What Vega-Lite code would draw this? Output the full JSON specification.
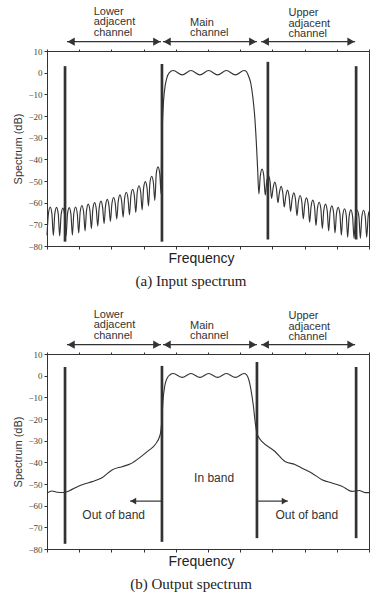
{
"$schema": "https://vega.github.io/schema/vega-lite/v6.json",
"background": "white",
"padding": {"left": 12, "top": 4, "right": 5, "bottom": 5},
"config": {
  "view": {"stroke": "#333", "strokeWidth": 1},
  "axis": {"grid": false, "domainColor": "#333", "tickColor": "#333", "tickWidth": 1, "domainWidth": 1}
},
"datasets": {
  "input": [
    {"f":0,"db":-75},{"f":0.045,"db":-65},{"f":0.099,"db":-62},{"f":0.152,"db":-65},
    {"f":0.197,"db":-75.2},{"f":0.242,"db":-65.2},{"f":0.296,"db":-62.2},{"f":0.349,"db":-65.2},
    {"f":0.394,"db":-75.4},{"f":0.439,"db":-65.5},{"f":0.493,"db":-62.5},{"f":0.546,"db":-65.5},
    {"f":0.591,"db":-75.5},{"f":0.636,"db":-65.3},{"f":0.69,"db":-62.3},{"f":0.743,"db":-65.3},
    {"f":0.788,"db":-75},{"f":0.833,"db":-65},{"f":0.887,"db":-62},{"f":0.94,"db":-65},
    {"f":0.985,"db":-74},{"f":1.03,"db":-64.3},{"f":1.084,"db":-61.3},{"f":1.137,"db":-64.3},
    {"f":1.182,"db":-73},{"f":1.227,"db":-63.7},{"f":1.281,"db":-60.7},{"f":1.334,"db":-63.7},
    {"f":1.379,"db":-72},{"f":1.424,"db":-63},{"f":1.478,"db":-60},{"f":1.531,"db":-63},
    {"f":1.576,"db":-70.8},{"f":1.621,"db":-62.3},{"f":1.675,"db":-59.3},{"f":1.728,"db":-62.3},
    {"f":1.773,"db":-69.6},{"f":1.818,"db":-61.5},{"f":1.872,"db":-58.5},{"f":1.925,"db":-61.5},
    {"f":1.97,"db":-68.6},{"f":2.015,"db":-60.6},{"f":2.069,"db":-57.6},{"f":2.122,"db":-60.6},
    {"f":2.167,"db":-67.6},{"f":2.212,"db":-59.4},{"f":2.266,"db":-56.4},{"f":2.319,"db":-59.4},
    {"f":2.364,"db":-66.7},{"f":2.409,"db":-58.2},{"f":2.463,"db":-55.2},{"f":2.516,"db":-58.2},
    {"f":2.561,"db":-65.6},{"f":2.606,"db":-56.8},{"f":2.66,"db":-53.8},{"f":2.713,"db":-56.8},
    {"f":2.758,"db":-64.5},{"f":2.803,"db":-55.2},{"f":2.857,"db":-52.2},{"f":2.91,"db":-55.2},
    {"f":2.955,"db":-63.3},{"f":3.0,"db":-53.3},{"f":3.054,"db":-50.3},{"f":3.107,"db":-53.3},
    {"f":3.152,"db":-61.5},{"f":3.197,"db":-50.8},{"f":3.251,"db":-47.8},{"f":3.304,"db":-50.8},
    {"f":3.349,"db":-59},{"f":3.394,"db":-46.5},{"f":3.448,"db":-43.5},{"f":3.501,"db":-46.5},
    {"f":3.546,"db":-56},{"f":3.56,"db":-36},{"f":3.58,"db":-25},{"f":3.62,"db":-13},{"f":3.67,"db":-6},{"f":3.72,"db":-2.5},{"f":3.8,"db":0},
    {"f":3.92,"db":1},{"f":4.2,"db":-1},{"f":4.47,"db":1},{"f":4.75,"db":-1},{"f":5.02,"db":1},{"f":5.3,"db":-1},{"f":5.57,"db":1},{"f":5.85,"db":-1},{"f":6.12,"db":1},
    {"f":6.2,"db":0.4},{"f":6.27,"db":-2},{"f":6.33,"db":-5},{"f":6.39,"db":-11},{"f":6.45,"db":-20},{"f":6.5,"db":-32},{"f":6.54,"db":-44},
    {"f":6.58,"db":-56},{"f":6.625,"db":-47.5},{"f":6.679,"db":-44.5},{"f":6.732,"db":-47.5},
    {"f":6.777,"db":-56.5},{"f":6.822,"db":-50.5},{"f":6.876,"db":-47.5},{"f":6.929,"db":-50.5},
    {"f":6.974,"db":-58},{"f":7.019,"db":-53.5},{"f":7.073,"db":-50.5},{"f":7.126,"db":-53.5},
    {"f":7.171,"db":-60},{"f":7.216,"db":-55.5},{"f":7.27,"db":-52.5},{"f":7.323,"db":-55.5},
    {"f":7.368,"db":-62},{"f":7.413,"db":-57.2},{"f":7.467,"db":-54.2},{"f":7.52,"db":-57.2},
    {"f":7.565,"db":-64},{"f":7.61,"db":-58.5},{"f":7.664,"db":-55.5},{"f":7.717,"db":-58.5},
    {"f":7.762,"db":-66},{"f":7.807,"db":-59.7},{"f":7.861,"db":-56.7},{"f":7.914,"db":-59.7},
    {"f":7.959,"db":-67.5},{"f":8.004,"db":-60.8},{"f":8.058,"db":-57.8},{"f":8.111,"db":-60.8},
    {"f":8.156,"db":-69},{"f":8.201,"db":-61.8},{"f":8.255,"db":-58.8},{"f":8.308,"db":-61.8},
    {"f":8.353,"db":-70.5},{"f":8.398,"db":-62.8},{"f":8.452,"db":-59.8},{"f":8.505,"db":-62.8},
    {"f":8.55,"db":-72},{"f":8.595,"db":-63.7},{"f":8.649,"db":-60.7},{"f":8.702,"db":-63.7},
    {"f":8.747,"db":-73},{"f":8.792,"db":-64.5},{"f":8.846,"db":-61.5},{"f":8.899,"db":-64.5},
    {"f":8.944,"db":-74},{"f":8.989,"db":-65.2},{"f":9.043,"db":-62.2},{"f":9.096,"db":-65.2},
    {"f":9.141,"db":-75},{"f":9.186,"db":-65.8},{"f":9.24,"db":-62.8},{"f":9.293,"db":-65.8},
    {"f":9.338,"db":-76},{"f":9.383,"db":-66.3},{"f":9.437,"db":-63.3},{"f":9.49,"db":-66.3},
    {"f":9.535,"db":-76.5},{"f":9.58,"db":-66.5},{"f":9.634,"db":-63.5},{"f":9.687,"db":-66.5},
    {"f":9.732,"db":-76.5},{"f":9.777,"db":-66.5},{"f":9.831,"db":-63.5},{"f":9.884,"db":-66.5},
    {"f":9.929,"db":-76},{"f":9.974,"db":-66.3},{"f":10,"db":-64}
  ],
  "output": [
    {"f":0,"db":-54.2},{"f":0.155,"db":-53.2},{"f":0.31,"db":-53.8},{"f":0.53,"db":-53.9},{"f":0.68,"db":-53.2},{"f":0.99,"db":-50.9},{"f":1.2,"db":-49.8},{"f":1.4,"db":-48.9},{"f":1.71,"db":-47.1},{"f":2.02,"db":-43.5},{"f":2.33,"db":-42},{"f":2.58,"db":-40.8},{"f":2.95,"db":-37},{"f":3.17,"db":-34.4},{"f":3.35,"db":-32},{"f":3.51,"db":-27.5},{"f":3.57,"db":-20},{"f":3.6,"db":-12},{"f":3.66,"db":-4.5},{"f":3.73,"db":-1.2},{"f":3.82,"db":0.4},
    {"f":3.92,"db":1},{"f":4.2,"db":-0.8},{"f":4.47,"db":1},{"f":4.75,"db":-0.8},{"f":5.02,"db":1},{"f":5.3,"db":-0.8},{"f":5.57,"db":1},{"f":5.85,"db":-0.8},{"f":6.12,"db":1},
    {"f":6.2,"db":0.4},{"f":6.27,"db":-2},{"f":6.34,"db":-7},{"f":6.41,"db":-14},{"f":6.47,"db":-22},{"f":6.52,"db":-26.5},{"f":6.6,"db":-29},{"f":6.68,"db":-30.4},{"f":7.08,"db":-35},{"f":7.39,"db":-39.6},{"f":7.7,"db":-41},{"f":7.92,"db":-42.7},{"f":8.23,"db":-45},{"f":8.54,"db":-48},{"f":8.85,"db":-49.5},{"f":9.16,"db":-51},{"f":9.47,"db":-53.4},{"f":9.69,"db":-53},{"f":9.88,"db":-54},{"f":10,"db":-54}
  ],
  "bounds1": [
    {"f":0.56,"top":3,"bot":-78},{"f":3.57,"top":4,"bot":-78},{"f":6.86,"top":5,"bot":-77},{"f":9.6,"top":3,"bot":-77}
  ],
  "bounds2": [
    {"f":0.56,"top":4,"bot":-77.6},{"f":3.57,"top":4.5,"bot":-76.7},{"f":6.52,"top":6.3,"bot":-75},{"f":9.6,"top":4,"bot":-75}
  ],
  "chanArrows": [
    {"f":0.62,"f2":3.54,"db":14.3},{"f":3.6,"f2":6.52,"db":14.3},{"f":6.65,"f2":9.57,"db":14.3}
  ],
  "chanHeads": [
    {"f":0.75,"db":14.3,"dir":"left"},{"f":3.41,"db":14.3,"dir":"right"},
    {"f":3.73,"db":14.3,"dir":"left"},{"f":6.39,"db":14.3,"dir":"right"},
    {"f":6.78,"db":14.3,"dir":"left"},{"f":9.44,"db":14.3,"dir":"right"}
  ],
  "chanLabels": [
    {"f":1.45,"db":31,"text":"Lower\nadjacent\nchannel"},
    {"f":4.44,"db":25.9,"text":"Main\nchannel"},
    {"f":7.5,"db":30.1,"text":"Upper\nadjacent\nchannel"}
  ],
  "bandArrows": [
    {"f":2.58,"f2":3.57,"db":-57.9},{"f":6.52,"f2":7.48,"db":-57.9}
  ],
  "bandHeads": [
    {"f":2.68,"db":-57.9,"dir":"left"},{"f":7.38,"db":-57.9,"dir":"right"}
  ],
  "bandLabels": [
    {"f":2.07,"db":-64.3,"text":"Out of band"},
    {"f":8.07,"db":-64.3,"text":"Out of band"},
    {"f":5.19,"db":-47.3,"text":"In band"}
  ]
},
"bounds": "flush",
"spacing": 108,
"vconcat": [
  {
    "width": 322, "height": 195,
    "title": {"text": "(a) Input spectrum", "orient": "bottom", "anchor": "middle", "font": "Liberation Serif", "fontSize": 15, "fontWeight": "normal", "color": "#222", "offset": 8, "dx": -17},
    "resolve": {"axis": {"x": "independent", "y": "independent"}},
    "layer": [
      {
        "data": {"name": "input"},
        "mark": {"type": "line", "color": "#333", "strokeWidth": 1.15, "interpolate": "monotone"},
        "encoding": {
          "x": {"field": "f", "type": "quantitative", "scale": {"domain": [0, 10], "nice": false},
                "axis": {"orient": "bottom", "values": [0,1,2,3,4,5,6,7,8,9,10], "labels": false, "tickSize": 3, "title": "Frequency", "titleFont": "Liberation Sans", "titleFontSize": 14, "titleFontWeight": "normal", "titleColor": "#222", "titlePadding": 2, "titleX": 154, "titleAlign": "center"}},
          "y": {"field": "db", "type": "quantitative", "scale": {"domain": [-80, 10], "nice": false},
                "axis": {"values": [-80,-70,-60,-50,-40,-30,-20,-10,0,10], "labelOverlap": false, "title": "Spectrum (dB)", "labelFont": "Liberation Serif", "labelFontSize": 9, "labelColor": "#444", "tickSize": 3, "labelPadding": 2, "titleFont": "Liberation Sans", "titleFontSize": 11, "titleFontWeight": "normal", "titleColor": "#333", "titlePadding": 4}}
        }
      },
      {
        "data": {"name": "bounds1"},
        "mark": {"type": "rule", "color": "#333", "strokeWidth": 2.7},
        "encoding": {
          "x": {"field": "f", "type": "quantitative", "axis": {"orient": "top", "values": [0,1,2,3,4,5,6,7,8,9,10], "labels": false, "tickSize": 2, "title": null}},
          "y": {"field": "top", "type": "quantitative", "axis": null},
          "y2": {"field": "bot"}
        }
      },
      {
        "data": {"name": "chanArrows"},
        "mark": {"type": "rule", "color": "#333", "strokeWidth": 1.3},
        "encoding": {
          "x": {"field": "f", "type": "quantitative", "axis": null},
          "x2": {"field": "f2"},
          "y": {"field": "db", "type": "quantitative", "axis": null}
        }
      },
      {
        "data": {"name": "chanHeads"},
        "mark": {"type": "point", "filled": true, "color": "#333", "size": 70, "opacity": 1},
        "encoding": {
          "x": {"field": "f", "type": "quantitative", "axis": null},
          "y": {"field": "db", "type": "quantitative", "axis": null},
          "shape": {"field": "dir", "type": "nominal", "scale": {"domain": ["left", "right"], "range": ["triangle-left", "triangle-right"]}, "legend": null}
        }
      },
      {
        "data": {"name": "chanLabels"},
        "mark": {"type": "text", "align": "left", "baseline": "top", "lineBreak": "\n", "lineHeight": 10.5, "font": "Liberation Sans", "fontSize": 11, "color": "#333"},
        "encoding": {
          "x": {"field": "f", "type": "quantitative", "axis": null},
          "y": {"field": "db", "type": "quantitative", "axis": null},
          "text": {"field": "text"}
        }
      }
    ]
  },
  {
    "width": 322, "height": 195,
    "title": {"text": "(b) Output spectrum", "orient": "bottom", "anchor": "middle", "font": "Liberation Serif", "fontSize": 15, "fontWeight": "normal", "color": "#222", "offset": 8, "dx": -17},
    "resolve": {"axis": {"x": "independent", "y": "independent"}},
    "layer": [
      {
        "data": {"name": "output"},
        "mark": {"type": "line", "color": "#333", "strokeWidth": 1.1, "interpolate": "monotone"},
        "encoding": {
          "x": {"field": "f", "type": "quantitative", "scale": {"domain": [0, 10], "nice": false},
                "axis": {"orient": "bottom", "values": [0,1,2,3,4,5,6,7,8,9,10], "labels": false, "tickSize": 3, "title": "Frequency", "titleFont": "Liberation Sans", "titleFontSize": 14, "titleFontWeight": "normal", "titleColor": "#222", "titlePadding": 2, "titleX": 154, "titleAlign": "center"}},
          "y": {"field": "db", "type": "quantitative", "scale": {"domain": [-80, 10], "nice": false},
                "axis": {"values": [-80,-70,-60,-50,-40,-30,-20,-10,0,10], "labelOverlap": false, "title": "Spectrum (dB)", "labelFont": "Liberation Serif", "labelFontSize": 9, "labelColor": "#444", "tickSize": 3, "labelPadding": 2, "titleFont": "Liberation Sans", "titleFontSize": 11, "titleFontWeight": "normal", "titleColor": "#333", "titlePadding": 4}}
        }
      },
      {
        "data": {"name": "bounds2"},
        "mark": {"type": "rule", "color": "#333", "strokeWidth": 2.7},
        "encoding": {
          "x": {"field": "f", "type": "quantitative", "axis": {"orient": "top", "values": [0,1,2,3,4,5,6,7,8,9,10], "labels": false, "tickSize": 2, "title": null}},
          "y": {"field": "top", "type": "quantitative", "axis": null},
          "y2": {"field": "bot"}
        }
      },
      {
        "data": {"name": "chanArrows"},
        "mark": {"type": "rule", "color": "#333", "strokeWidth": 1.3},
        "encoding": {
          "x": {"field": "f", "type": "quantitative", "axis": null},
          "x2": {"field": "f2"},
          "y": {"field": "db", "type": "quantitative", "axis": null}
        }
      },
      {
        "data": {"name": "chanHeads"},
        "mark": {"type": "point", "filled": true, "color": "#333", "size": 70, "opacity": 1},
        "encoding": {
          "x": {"field": "f", "type": "quantitative", "axis": null},
          "y": {"field": "db", "type": "quantitative", "axis": null},
          "shape": {"field": "dir", "type": "nominal", "scale": {"domain": ["left", "right"], "range": ["triangle-left", "triangle-right"]}, "legend": null}
        }
      },
      {
        "data": {"name": "chanLabels"},
        "mark": {"type": "text", "align": "left", "baseline": "top", "lineBreak": "\n", "lineHeight": 10.5, "font": "Liberation Sans", "fontSize": 11, "color": "#333"},
        "encoding": {
          "x": {"field": "f", "type": "quantitative", "axis": null},
          "y": {"field": "db", "type": "quantitative", "axis": null},
          "text": {"field": "text"}
        }
      },
      {
        "data": {"name": "bandArrows"},
        "mark": {"type": "rule", "color": "#333", "strokeWidth": 1.2},
        "encoding": {
          "x": {"field": "f", "type": "quantitative", "axis": null},
          "x2": {"field": "f2"},
          "y": {"field": "db", "type": "quantitative", "axis": null}
        }
      },
      {
        "data": {"name": "bandHeads"},
        "mark": {"type": "point", "filled": true, "color": "#333", "size": 45, "opacity": 1},
        "encoding": {
          "x": {"field": "f", "type": "quantitative", "axis": null},
          "y": {"field": "db", "type": "quantitative", "axis": null},
          "shape": {"field": "dir", "type": "nominal", "scale": {"domain": ["left", "right"], "range": ["triangle-left", "triangle-right"]}, "legend": null}
        }
      },
      {
        "data": {"name": "bandLabels"},
        "mark": {"type": "text", "align": "center", "baseline": "middle", "font": "Liberation Sans", "fontSize": 12, "color": "#333"},
        "encoding": {
          "x": {"field": "f", "type": "quantitative", "axis": null},
          "y": {"field": "db", "type": "quantitative", "axis": null},
          "text": {"field": "text"}
        }
      }
    ]
  }
]
}
